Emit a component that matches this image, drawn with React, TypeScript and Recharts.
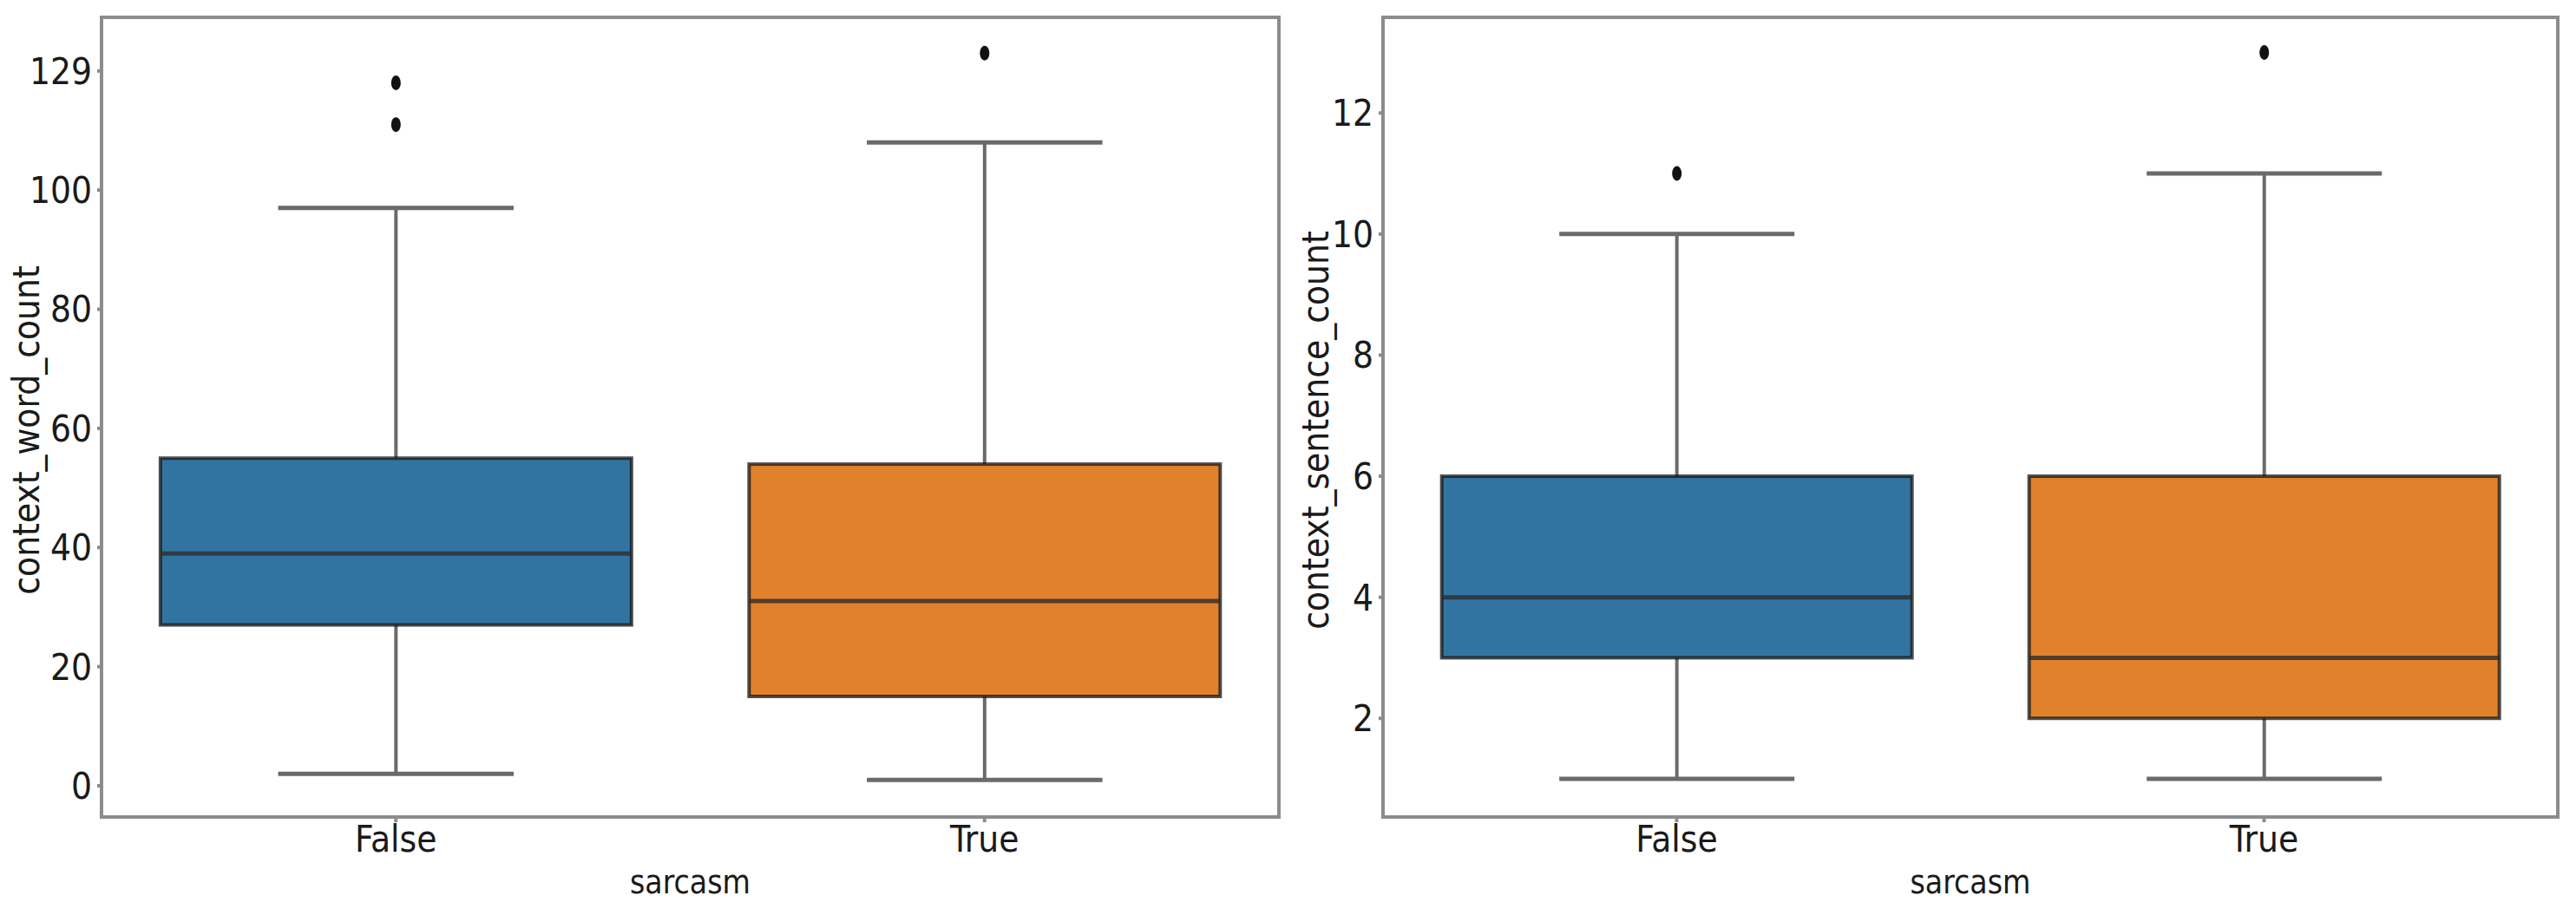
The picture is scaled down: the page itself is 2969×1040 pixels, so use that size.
import React from 'react';
import { ComposedChart, Bar, XAxis, YAxis, ReferenceArea } from 'recharts';

const FONT = "'Liberation Sans Narrow', 'DejaVu Sans Condensed', 'Liberation Sans', Arial, sans-serif";

// categories
const categories = ['False', 'True'];
const boxColors = ['#3274a1', '#e1812c'];

// context_word_count
const wordLow = [2, 1];
const wordQ1 = [27, 15];
const wordMedian = [39, 31];
const wordQ3 = [55, 54];
const wordHigh = [97, 108];
const wordOutliers = [[118, 111], [123]];
const wordTicks = [0, 20, 40, 60, 80, 100, 120];
const wordTickLabels = ['0', '20', '40', '60', '80', '100', '129'];
const wordDomain = [-5.24, 129];

// context_sentence_count
const sentLow = [1, 1];
const sentQ1 = [3, 2];
const sentMedian = [4, 3];
const sentQ3 = [6, 6];
const sentHigh = [10, 11];
const sentOutliers = [[11], [13]];
const sentTicks = [2, 4, 6, 8, 10, 12];
const sentTickLabels = ['2', '4', '6', '8', '10', '12'];
const sentDomain = [0.37, 13.58];

const buildRows = (low, q1, med, q3, high, outs) =>
  categories.map((cat, i) => ({
    cat,
    lo: low[i],
    q1: q1[i],
    med: med[i],
    q3: q3[i],
    hi: high[i],
    outliers: outs[i],
    color: boxColors[i],
  }));

const wordRows = buildRows(wordLow, wordQ1, wordMedian, wordQ3, wordHigh, wordOutliers);
const sentRows = buildRows(sentLow, sentQ1, sentMedian, sentQ3, sentHigh, sentOutliers);

const FRAME = '#8c8c8c';
const WHISKER = '#6a6a6a';
const TEXT = '#1a1a1a';

const BoxShape = (props: any) => {
  const { x, y, width, height, payload } = props;
  const unit = height / (payload.hi - payload.lo);
  const py = (v: number) => y + (payload.hi - v) * unit;
  const cx = x + width / 2;
  const capHalf = width / 4;
  return (
    <g>
      <line x1={cx} x2={cx} y1={py(payload.hi)} y2={py(payload.q3)} stroke={WHISKER} strokeWidth={4} />
      <line x1={cx} x2={cx} y1={py(payload.q1)} y2={py(payload.lo)} stroke={WHISKER} strokeWidth={4} />
      <line x1={cx - capHalf} x2={cx + capHalf} y1={py(payload.hi)} y2={py(payload.hi)} stroke={WHISKER} strokeWidth={5} />
      <line x1={cx - capHalf} x2={cx + capHalf} y1={py(payload.lo)} y2={py(payload.lo)} stroke={WHISKER} strokeWidth={5} />
      <rect
        x={x}
        y={py(payload.q3)}
        width={width}
        height={py(payload.q1) - py(payload.q3)}
        fill={payload.color}
        stroke="rgba(20,20,20,0.75)"
        strokeWidth={4}
      />
      <line x1={x} x2={x + width} y1={py(payload.med)} y2={py(payload.med)} stroke="rgba(45,45,45,0.8)" strokeWidth={5} />
      {payload.outliers.map((o: number, k: number) => (
        <ellipse key={k} cx={cx} cy={py(o)} rx={5.5} ry={8.5} fill="#111" />
      ))}
    </g>
  );
};

const tickStyle = { fontSize: 42, fill: TEXT, fontFamily: FONT };

const YLabel = (props: any) => {
  const { viewBox, text, cx, dy } = props;
  const cy = viewBox.y + viewBox.height / 2 + dy;
  return (
    <text
      x={cx}
      y={cy}
      transform={`rotate(-90, ${cx}, ${cy})`}
      textAnchor="middle"
      dominantBaseline="central"
      fontSize={42}
      fill={TEXT}
      fontFamily={FONT}
    >
      {text}
    </text>
  );
};

function BoxPanel({ rows, domain, ticks, tickLabels, yLabel, left, width, yAxisWidth, labelX }: any) {
  return (
    <div style={{ position: 'absolute', left, top: 0, width, height: 1040 }}>
      <ComposedChart
        width={width}
        height={1040}
        data={rows}
        margin={{ top: 20, right: 21, left: 0, bottom: 0 }}
        barCategoryGap="10%"
      >
        <XAxis
          dataKey="cat"
          type="category"
          height={98}
          tick={tickStyle}
          tickSize={6}
          tickMargin={4}
          tickLine={{ stroke: FRAME, strokeWidth: 4 }}
          axisLine={{ stroke: FRAME, strokeWidth: 4 }}
          label={{ value: 'sarcasm', position: 'insideBottom', offset: 10, style: { fontSize: 37, fill: TEXT, fontFamily: FONT } }}
        />
        <YAxis
          type="number"
          domain={domain}
          ticks={ticks}
          allowDataOverflow
          width={yAxisWidth}
          tick={tickStyle}
          tickSize={5}
          tickMargin={6}
          tickLine={{ stroke: FRAME, strokeWidth: 4 }}
          axisLine={{ stroke: FRAME, strokeWidth: 4 }}
          tickFormatter={(v: number) => tickLabels[ticks.indexOf(v)] ?? String(v)}
          label={(p: any) => <YLabel {...p} text={yLabel} cx={labelX} dy={15} />}
        />
        <ReferenceArea
          y1={domain[0]}
          y2={domain[1]}
          fill="none"
          fillOpacity={0}
          stroke={FRAME}
          strokeWidth={4}
          ifOverflow="visible"
        />
        <Bar dataKey={(d: any) => [d.lo, d.hi]} shape={BoxShape} isAnimationActive={false} />
      </ComposedChart>
    </div>
  );
}

export default function App() {
  return (
    <div style={{ position: 'absolute', left: 0, top: 0, width: 2969, height: 1040, background: '#fff', fontFamily: FONT }}>
      <BoxPanel
        rows={wordRows}
        domain={wordDomain}
        ticks={wordTicks}
        tickLabels={wordTickLabels}
        yLabel="context_word_count"
        left={0}
        width={1495}
        yAxisWidth={117}
        labelX={30}
      />
      <BoxPanel
        rows={sentRows}
        domain={sentDomain}
        ticks={sentTicks}
        tickLabels={sentTickLabels}
        yLabel="context_sentence_count"
        left={1490}
        width={1479}
        yAxisWidth={104}
        labelX={26}
      />
    </div>
  );
}
